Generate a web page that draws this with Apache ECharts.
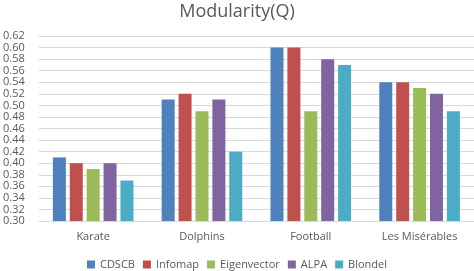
<!DOCTYPE html>
<html lang="en">
<head>
    <meta charset="UTF-8">
    <title>Modularity</title>
    <script src="https://cdn.jsdelivr.net/npm/echarts@6/dist/echarts.min.js"></script>
    <style type="text/css">
        html, body { margin: 0; height: 100%; background: #ffffff; }
        #chart { width: 474px; height: 271px; }
    </style>
</head>
<body>
    <div id="chart"></div>
    <script type="text/javascript">
        var datasets = ['Karate', 'Dolphins', 'Football', 'Les Misérables'];
        var methods = ['CDSCB', 'Infomap', 'Eigenvector', 'ALPA', 'Blondel'];
        var cdscb = [0.41, 0.51, 0.60, 0.54];
        var infomap = [0.40, 0.52, 0.60, 0.54];
        var eigenvector = [0.39, 0.49, 0.49, 0.53];
        var alpa = [0.40, 0.51, 0.58, 0.52];
        var blondel = [0.37, 0.42, 0.57, 0.49];
        var values = [cdscb, infomap, eigenvector, alpa, blondel];
        var colors = ['#4F81BD', '#C0504D', '#9BBB59', '#8064A2', '#4BACC6'];

        var myChart = echarts.init(document.getElementById('chart'));
        var textColor = '#595959';
        var font = 'Open Sans';

        var series = [];
        for (var i = 0; i < methods.length; i++) {
            series.push({
                name: methods[i],
                type: 'bar',
                data: values[i],
                barWidth: 13,
                barGap: '30%',
                itemStyle: { color: colors[i] }
            });
        }

        myChart.setOption({
            animation: false,
            title: {
                text: 'Modularity(Q)',
                left: 'center',
                top: -2,
                textStyle: { fontSize: 18, fontWeight: 'normal', color: textColor, fontFamily: font }
            },
            legend: {
                data: methods,
                bottom: -4,
                left: 'center',
                itemWidth: 8,
                itemHeight: 8,
                itemGap: 8,
                icon: 'rect',
                textStyle: { fontSize: 11, color: textColor, fontFamily: font }
            },
            grid: { left: 36, right: -2, top: 36, bottom: 50 },
            xAxis: {
                type: 'category',
                data: datasets,
                axisLine: { show: false },
                axisTick: { show: false },
                axisLabel: { fontSize: 11, color: textColor, fontFamily: font, margin: 10 }
            },
            yAxis: {
                type: 'value',
                min: 0.30,
                max: 0.62,
                interval: 0.02,
                axisLine: { show: false },
                axisTick: { show: false },
                axisLabel: {
                    fontSize: 11, color: textColor, fontFamily: font, margin: 14,
                    formatter: function (v) { return v.toFixed(2); }
                },
                splitLine: { lineStyle: { color: '#D9D9D9', width: 1 } }
            },
            series: series
        });
    </script>
</body>
</html>
